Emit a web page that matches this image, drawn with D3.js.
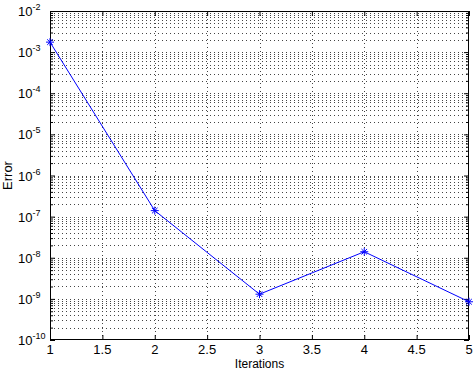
<!DOCTYPE html>
<html>
<head>
<meta charset="utf-8">
<script src="https://cdn.jsdelivr.net/npm/d3@7"></script>
<style>
  body { margin: 0; background: #fff; }
  svg { display: block; }
  text { font-family: "Liberation Sans", Arial, Helvetica, sans-serif; fill: #000; }
</style>
</head>
<body>
<svg id="chart" width="474" height="372"></svg>
<script>
const iterations = [1, 2, 3, 4, 5];
const errors = [1.75e-3, 1.4e-7, 1.3e-9, 1.4e-8, 8.5e-10];
const xTicks = [1, 1.5, 2, 2.5, 3, 3.5, 4, 4.5, 5];
const yExponents = [-2, -3, -4, -5, -6, -7, -8, -9, -10];

const W = 474, H = 372;
const m = { left: 50, right: 5, top: 11, bottom: 32 };
const svg = d3.select("#chart");

const x = d3.scaleLinear().domain([1, 5]).range([m.left, W - m.right]);
const y = d3.scaleLog().domain([1e-10, 1e-2]).range([H - m.bottom, m.top]);

const x0 = x.range()[0], x1 = x.range()[1], y0 = y.range()[0], y1 = y.range()[1];

const minors = [];
for (let e = -10; e < -2; e++) for (let k = 2; k <= 9; k++) minors.push(k * Math.pow(10, e));
const majors = yExponents.map(e => Math.pow(10, e));

const grid = svg.append("g").attr("stroke", "#444").attr("stroke-width", 1)
  .attr("stroke-dasharray", "1,3").attr("fill", "none");
grid.selectAll("line.h").data(majors.concat(minors).filter(v => v > 1e-10 && v < 1e-2)).enter()
  .append("line")
  .attr("x1", x0).attr("x2", x1)
  .attr("y1", d => Math.round(y(d)) + 0.5).attr("y2", d => Math.round(y(d)) + 0.5);
grid.selectAll("line.v").data(xTicks.filter(v => v > 1 && v < 5)).enter()
  .append("line")
  .attr("y1", y0).attr("y2", y1)
  .attr("x1", d => Math.round(x(d)) + 0.5).attr("x2", d => Math.round(x(d)) + 0.5);

svg.append("rect").attr("x", x0 + 0.5).attr("y", y1 + 0.5)
  .attr("width", x1 - x0 - 1).attr("height", y0 - y1 - 1)
  .attr("fill", "none").attr("stroke", "#000").attr("stroke-width", 1);

const axB = d3.axisBottom(x).tickValues(xTicks).tickSize(-5).tickFormat("");
const axT = d3.axisTop(x).tickValues(xTicks).tickSize(-5).tickFormat("");
const axL = d3.axisLeft(y).tickValues(majors).tickSize(-5).tickFormat("");
const axR = d3.axisRight(y).tickValues(majors).tickSize(-5).tickFormat("");
const axLm = d3.axisLeft(y).tickValues(minors).tickSize(-3).tickFormat("");
const axRm = d3.axisRight(y).tickValues(minors).tickSize(-3).tickFormat("");
function styleAxis(g) { g.select(".domain").remove(); g.selectAll("line").attr("stroke", "#000"); }
svg.append("g").attr("transform", `translate(0,${y0})`).call(axB).call(styleAxis);
svg.append("g").attr("transform", `translate(0,${y1})`).call(axT).call(styleAxis);
svg.append("g").attr("transform", `translate(${x0},0)`).call(axL).call(styleAxis);
svg.append("g").attr("transform", `translate(${x1},0)`).call(axR).call(styleAxis);
svg.append("g").attr("transform", `translate(${x0},0)`).call(axLm).call(styleAxis);
svg.append("g").attr("transform", `translate(${x1},0)`).call(axRm).call(styleAxis);

svg.append("g").selectAll("text").data(xTicks).enter().append("text")
  .attr("x", d => x(d)).attr("y", y0 + 14)
  .attr("text-anchor", "middle").attr("font-size", 13)
  .text(d => String(d));

const yl = svg.append("g").selectAll("text").data(yExponents).enter().append("text")
  .attr("x", 18).attr("y", d => y(Math.pow(10, d)) + 5)
  .attr("text-anchor", "start").attr("font-size", 13);
yl.append("tspan").text("10");
yl.append("tspan").attr("dy", -6).attr("font-size", 9).text(d => String(d));

svg.append("text").attr("x", x((1 + 5) / 2)).attr("y", 368)
  .attr("text-anchor", "middle").attr("font-size", 12).text("Iterations");
svg.append("text").attr("transform", `translate(12,${(y0 + y1) / 2}) rotate(-90)`)
  .attr("text-anchor", "middle").attr("font-size", 13).text("Error");

const line = d3.line().x((d, i) => x(iterations[i])).y(d => y(d));
svg.append("path").datum(errors).attr("d", line)
  .attr("fill", "none").attr("stroke", "#0000ff").attr("stroke-width", 1);

const star = svg.append("g").attr("stroke", "#0000ff").attr("stroke-width", 1);
errors.forEach((v, i) => {
  const cx = x(iterations[i]), cy = y(v), r = 4;
  const g = star.append("g").attr("transform", `translate(${cx},${cy})`);
  g.append("line").attr("x1", -r).attr("x2", r).attr("y1", 0).attr("y2", 0);
  g.append("line").attr("x1", 0).attr("x2", 0).attr("y1", -r).attr("y2", r);
  g.append("line").attr("x1", -r * 0.7).attr("x2", r * 0.7).attr("y1", -r * 0.7).attr("y2", r * 0.7);
  g.append("line").attr("x1", -r * 0.7).attr("x2", r * 0.7).attr("y1", r * 0.7).attr("y2", -r * 0.7);
});
</script>
</body>
</html>
